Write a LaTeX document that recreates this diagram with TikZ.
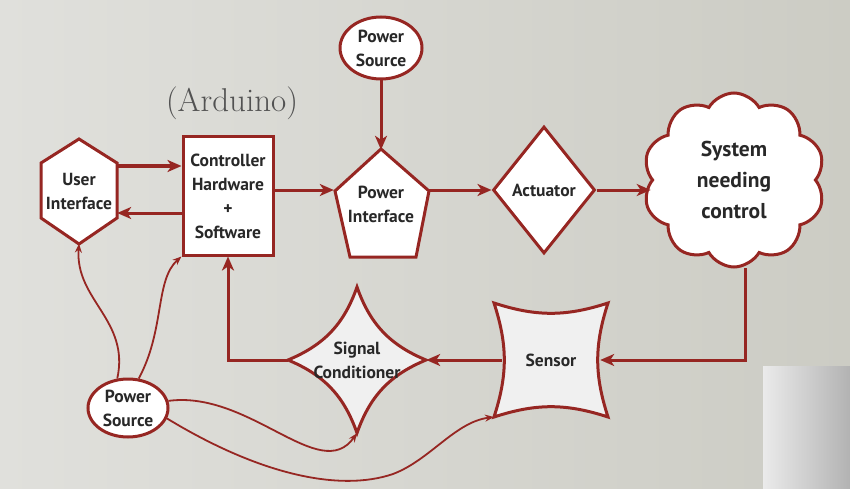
\documentclass[tikz,border=0pt]{standalone}
\usepackage{fontspec}
\setsansfont{PT Sans}
\usetikzlibrary{shapes.geometric,shapes.symbols,arrows.meta,calc}
\definecolor{brick}{RGB}{150,38,34}
\definecolor{ink}{RGB}{40,40,40}
\definecolor{paperL}{RGB}{224,224,220}
\definecolor{paperR}{RGB}{204,204,196}

\begin{document}
\begin{tikzpicture}[x=1pt,y=-1pt,
  lbl/.style={font=\sffamily\bfseries\fontsize{17.5}{24}\selectfont, text=ink, align=center, inner sep=0pt},
  blk/.style={lbl, draw=brick, line width=3pt, fill=white},
  outline/.style={draw=brick, line width=3pt, fill=white},
  arr/.style={brick, line width=3pt, -{Stealth[length=14pt,width=12pt,inset=4pt]}},
  wire/.style={brick, line width=1.8pt, -{Stealth[length=9pt,width=7pt]}},
]
% background
\shade[left color=paperL, right color=paperR] (0,0) rectangle (850,489);
\useasboundingbox (0,0) rectangle (850,489);

\node[font=\fontsize{33}{38}\selectfont, text=black!68] (title) at (232,103) {(Arduino)};

% shapes drawn by hand
\draw[outline] (79,139) -- (117,163) -- (117,218) -- (79,244) -- (41,218) -- (41,163) -- cycle;
\draw[outline] (381,149) -- (429,191) -- (416,257) -- (350,257) -- (335,191) -- cycle;
\draw[outline, fill=black!6] (494,303) to[bend right=18] (608,303) to[bend right=18] (608,417)
  to[bend right=18] (494,417) to[bend right=18] cycle;
\draw[outline, fill=black!6] (357,287) to[bend right=24] (426,360) to[bend right=24] (357,433)
  to[bend right=24] (288,360) to[bend right=24] cycle;
\coordinate (sensSW) at (494,417);

% nodes
\node[lbl, minimum width=76pt, minimum height=105pt] (ui) at (79,191) {User\\Interface};
\node[blk, minimum width=90pt, minimum height=118pt] (ctrl) at (228,196) {Controller\\Hardware\\+\\Software};
\node[blk, ellipse, minimum width=82pt, minimum height=62pt] (ps0) at (381,48) {Power\\Source};
\node[lbl, minimum width=94pt, minimum height=108pt] (pint) at (381,204) {Power\\Interface};
\node[blk, diamond, minimum width=102pt, minimum height=127pt] (act) at (544,190) {Actuator};
\node[blk, cloud, cloud puffs=10, cloud puff arc=120, aspect=1.05, minimum width=182pt, minimum height=174pt,
  font=\sffamily\bfseries\fontsize{21.5}{31}\selectfont] (sys) at (734,180) {System\\needing\\control};
\node[lbl, minimum width=98pt, minimum height=96pt] (sens) at (551,360) {Sensor};
\node[lbl, minimum width=138pt, minimum height=146pt] (sig) at (357,360) {Signal\\Conditioner};
\node[blk, ellipse, minimum width=80pt, minimum height=58pt] (ps1) at (128,408) {Power\\Source};

% connectors
\draw[arr] ($(ui.east)+(0,-25)$) -- ($(ctrl.west)+(0,-30)$);
\draw[arr] ($(ctrl.west)+(0,17)$) -- ($(ui.east)+(0,22)$);
\draw[arr] (ctrl.east |- act) -- (pint.west |- act);
\draw[arr] (ps0.south) -- (pint.north);
\draw[arr] (pint.east |- act) -- (act.west);
\draw[arr] (act.east) -- (sys.west |- act);
\draw[arr] ($(sys.south)+(11,0)$) |- (sens.east);
\draw[arr] (sens.west) -- (sig.east);
\draw[arr] (sig.west) -| (ctrl.south);

% power wires
\draw[wire] (ps1.110) .. controls (130,320) and (75,300) .. (ui.south);
\draw[wire] (ps1.70) .. controls (165,330) and (155,280) .. (ctrl.south west);
\draw[wire] (ps1.10) .. controls (250,390) and (320,485) .. (sig.south);
\draw[wire] (ps1.-15) .. controls (260,475) and (340,492) .. (393,474)
  .. controls (430,460) and (455,422) .. (sensSW);

% overlay
\shade[left color=black!8, right color=black!30] (763,366) rectangle (850,489);
\end{tikzpicture}
\end{document}
